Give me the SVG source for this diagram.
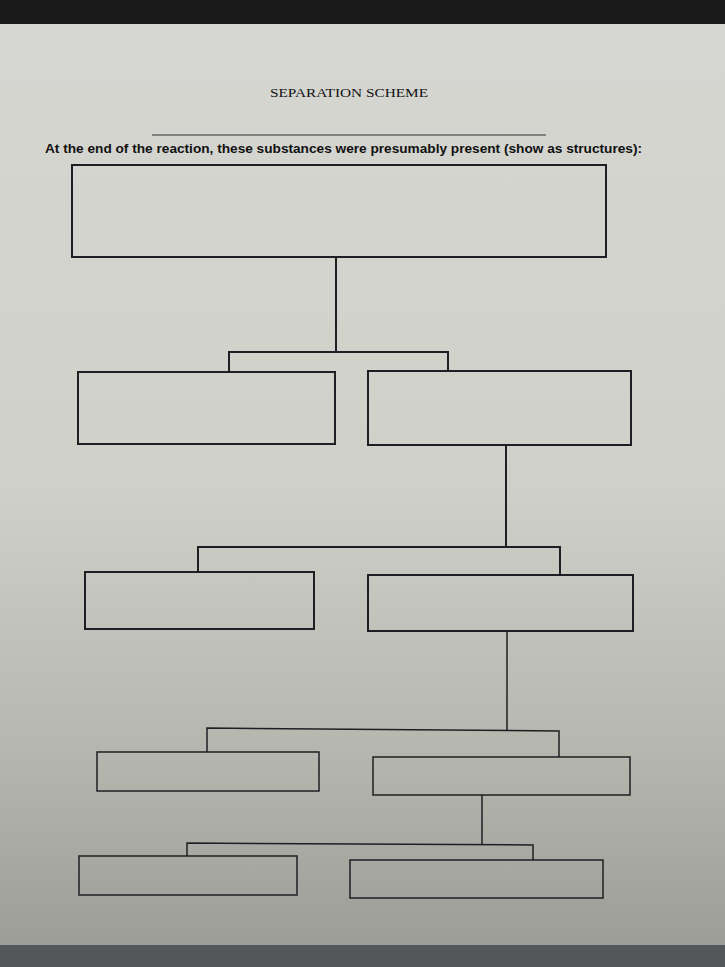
<svg xmlns="http://www.w3.org/2000/svg" width="725" height="967" viewBox="0 0 725 967">
<defs>
<linearGradient id="page" x1="0" y1="0" x2="0" y2="1">
<stop offset="0" stop-color="#d6d6d2"/>
<stop offset="0.5" stop-color="#cfd1c8"/>
<stop offset="0.8" stop-color="#b4b5ad"/>
<stop offset="1" stop-color="#9c9d96"/>
</linearGradient>
<style>
.box{fill:none;stroke:#1e1f24;stroke-width:2}
.thin{stroke-width:1.5}
.con{fill:none;stroke:#1e1f24;stroke-width:2}
.con .thin{stroke-width:1.5}
.title{font-family:"Liberation Serif",serif;font-size:13px;fill:#111}
.sub{font-family:"Liberation Sans",sans-serif;font-weight:bold;font-size:12px;fill:#111}
</style>
</defs>
<rect x="0" y="0" width="725" height="967" fill="#1a1a1a"/>
<rect x="0" y="24" width="725" height="923" fill="url(#page)"/>
<rect x="0" y="945" width="725" height="22" fill="#55565a"/>
<text class="title" x="349" y="97" text-anchor="middle" textLength="158" lengthAdjust="spacingAndGlyphs">SEPARATION SCHEME</text>
<line x1="152" y1="135" x2="546" y2="135" stroke="#333" stroke-width="1"/>
<text class="sub" x="45" y="153" textLength="597" lengthAdjust="spacingAndGlyphs">At the end of the reaction, these substances were presumably present (show as structures):</text>
<g id="connectors" class="con">
<polyline points="336,257 336,352"/>
<polyline points="229,371 229,352 448,352 448,371"/>
<polyline points="506,445 506,547"/>
<polyline points="198,572 198,547 560,547 560,575"/>
<polyline class="thin" points="507,631 507,730"/>
<polyline class="thin" points="207,752 207,728 559,731 559,757"/>
<polyline class="thin" points="482,795 482,845"/>
<polyline class="thin" points="187,856 187,843 533,845 533,860"/>
</g>
<g id="n1"><rect class="box" x="72" y="165" width="534" height="92"/></g>
<g id="n2a"><rect class="box" x="78" y="372" width="257" height="72"/></g>
<g id="n2b"><rect class="box" x="368" y="371" width="263" height="74"/></g>
<g id="n3a"><rect class="box" x="85" y="572" width="229" height="57"/></g>
<g id="n3b"><rect class="box" x="368" y="575" width="265" height="56"/></g>
<g id="n4a"><rect class="box thin" x="97" y="752" width="222" height="39"/></g>
<g id="n4b"><rect class="box thin" x="373" y="757" width="257" height="38"/></g>
<g id="n5a"><rect class="box thin" x="79" y="856" width="218" height="39"/></g>
<g id="n5b"><rect class="box thin" x="350" y="860" width="253" height="38"/></g>
</svg>
